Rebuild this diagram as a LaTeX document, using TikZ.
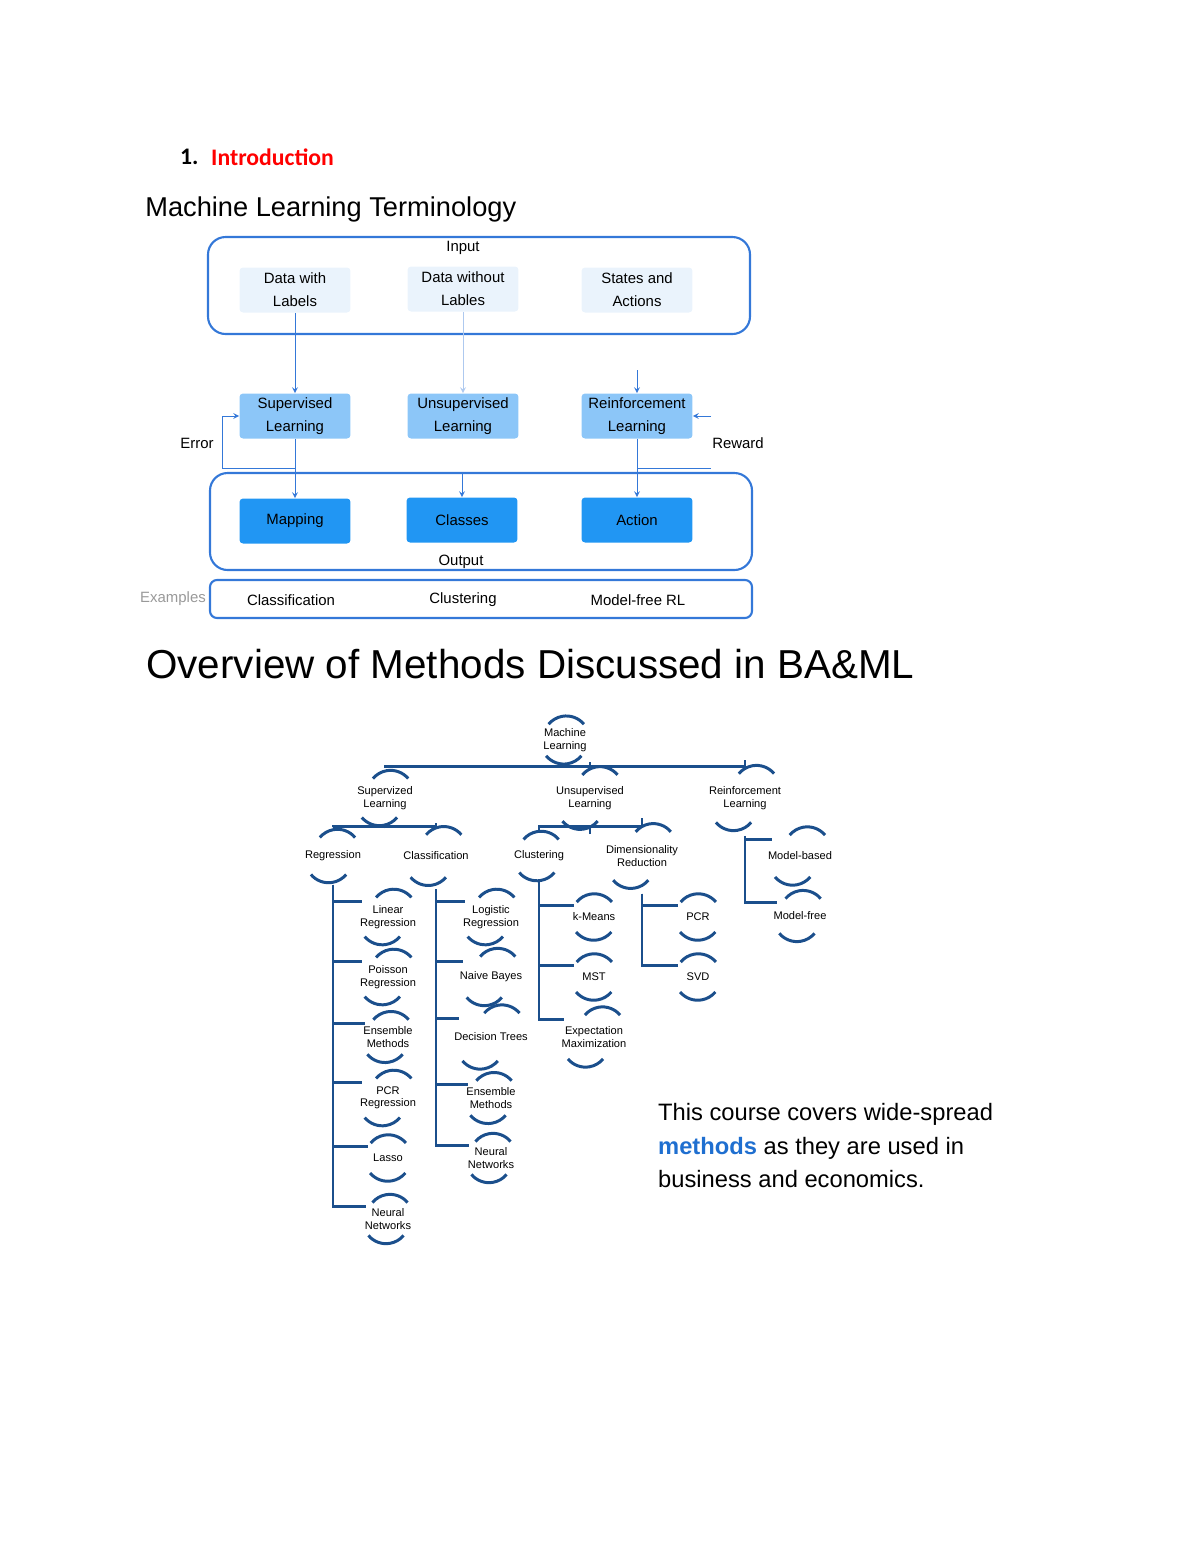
\documentclass[tikz,border=0pt]{standalone}
\usepackage{fontspec}
\setmainfont{Liberation Sans}
\newfontfamily\calibri{Carlito}
\usetikzlibrary{positioning}
\definecolor{frameblue}{HTML}{3478D8}
\definecolor{paleblue}{HTML}{EAF3FC}
\definecolor{midblue}{HTML}{8CC6F8}
\definecolor{deepblue}{HTML}{2196F3}
\definecolor{treeblue}{HTML}{1B4F8C}
\definecolor{linkblue}{HTML}{1F6FD0}
\tikzset{
  frame/.style = {draw=frameblue, line width=1.2pt, rounded corners=10pt},
  box/.style = {rounded corners=2pt, minimum width=2.22cm, minimum height=0.9cm, align=center, font=\fontsize{8.5}{13}\selectfont, inner sep=1pt},
  flow/.style = {draw=frameblue, line width=0.5pt, ->, >=stealth},
  ml/.style = {circle, minimum size=0.92cm, inner sep=0pt, align=center, font=\fontsize{6.3}{7}\selectfont},
  tree/.style = {draw=treeblue, line width=1.7pt}
}
\begin{document}
\begin{tikzpicture}[x=0.02cm, y=-0.02cm]
\useasboundingbox (0,0) rectangle (1200,1553);

% headings
\node[anchor=west, font=\calibri\bfseries\fontsize{13.5}{16}\selectfont] (num) at (174,157) {1.};
\node[anchor=west, font=\calibri\bfseries\fontsize{13.5}{16}\selectfont, text=red] (intro) at (205,157) {Introduction};
\node[anchor=west, font=\fontsize{15.5}{18}\selectfont, inner sep=0pt] (term) at (145,209) {Machine Learning Terminology};

% input / output frames
\draw[frame] (208,237) rectangle (750,334);
\node[font=\fontsize{8.5}{10}\selectfont] (input) at (463,248) {Input};
\draw[frame] (210,473) rectangle (752,570);
\node[font=\fontsize{8.5}{10}\selectfont] (output) at (461,562) {Output};
\draw[frame, rounded corners=4pt] (210,580) rectangle (752,618);

\node[box, fill=paleblue] (dwl) at (295,290) {Data with\\Labels};
\node[box, fill=paleblue] (dwo) at (463,289) {Data without\\Lables};
\node[box, fill=paleblue] (sa) at (637,290) {States and\\Actions};

\node[box, fill=midblue] (sup) at (295,416) {Supervised\\Learning};
\node[box, fill=midblue] (uns) at (463,416) {Unsupervised\\Learning};
\node[box, fill=midblue] (rl) at (637,416) {Reinforcement\\Learning};

\node[box, fill=deepblue] (map) at (295,521) {Mapping};
\node[box, fill=deepblue] (cls) at (462,520) {Classes};
\node[box, fill=deepblue] (act) at (637,520) {Action};

\draw[flow] (dwl) -- (sup);
\draw[flow, draw=frameblue!40] (dwo) -- (uns);
\coordinate (sain) at (637,370);
\draw[flow] (sain) -- (rl);
\draw[flow] (sup) -- (map);
\coordinate (unsout) at (462,473);
\draw[flow] (unsout) -- (cls);
\draw[flow] (rl) -- (act);

% feedback
\coordinate (errbase) at (295,468);
\draw[flow] (errbase) -- (222,468) |- (sup.west);
\node[font=\fontsize{8.5}{10}\selectfont] (err) at (197,443) {Error};
\coordinate (rewbase) at (637,468);
\draw[draw=frameblue, line width=0.5pt] (rewbase) -- (711,468);
\coordinate (rewin) at (711,416);
\draw[flow] (rewin) -- (rl.east);
\node[font=\fontsize{8.5}{10}\selectfont] (rew) at (738,443) {Reward};

% examples
\node[font=\fontsize{8.5}{10}\selectfont, text=black!40] (ex) at (173,599) {Examples};
\node[font=\fontsize{8.5}{10}\selectfont] (ex1) at (291,600) {Classification};
\node[font=\fontsize{8.5}{10}\selectfont] (ex2) at (463,600) {Clustering};
\node[font=\fontsize{8.5}{10}\selectfont] (ex3) at (638,600) {Model-free RL};

% overview
\node[anchor=west, font=\fontsize{23}{26}\selectfont, inner sep=0pt] (over) at (146,664) {Overview of Methods Discussed in BA\&ML};

\node[ml] (mlr) at (565,740) {Machine\\Learning};
\node[ml] (sl) at (385,798) {Supervized\\Learning};
\node[ml] (ul) at (590,798) {Unsupervised\\Learning};
\node[ml] (rfl) at (745,798) {Reinforcement\\Learning};
\node[ml] (reg) at (333,856) {Regression};
\node[ml] (clf) at (436,856) {Classification};
\node[ml] (clu) at (539,856) {Clustering};
\node[ml] (dim) at (642,856) {Dimensionality\\Reduction};
\node[ml] (mb) at (800,856) {Model-based};
\node[ml] (mf) at (800,916) {Model-free};

\node[ml] (r1) at (388,917) {Linear\\Regression};
\node[ml] (r2) at (388,977) {Poisson\\Regression};
\node[ml] (r3) at (388,1037) {Ensemble\\Methods};
\node[ml] (r4) at (388,1098) {PCR\\Regression};
\node[ml] (r5) at (388,1158) {Lasso};
\node[ml] (r6) at (388,1219) {Neural\\Networks};
\node[ml] (c1) at (491,917) {Logistic\\Regression};
\node[ml] (c2) at (491,977) {Naive Bayes};
\node[ml] (c3) at (491,1037) {Decision Trees};
\node[ml] (c4) at (491,1098) {Ensemble\\Methods};
\node[ml] (c5) at (491,1158) {Neural\\Networks};
\node[ml] (k1) at (594,917) {k-Means};
\node[ml] (k2) at (594,977) {MST};
\node[ml] (k3) at (594,1037) {Expectation\\Maximization};
\node[ml] (d1) at (698,917) {PCR};
\node[ml] (d2) at (698,977) {SVD};

% arcs round every node
\foreach \n in {mlr,sl,ul,rfl,reg,clf,clu,dim,mb,mf,r1,r2,r3,r4,r5,r6,c1,c2,c3,c4,c5,k1,k2,k3,d1,d2}{
  \draw[tree] (\n.40) arc[start angle=40, end angle=140, radius=0.46cm];
  \draw[tree] (\n.220) arc[start angle=220, end angle=320, radius=0.46cm];
}

% tree links
\coordinate (bar) at (565,766);
\draw[tree] (mlr.south) -- (bar);
\draw[tree] (sl.north) |- (bar) -| (rfl.north);
\draw[tree] (ul.north) -- (590,766);
\draw[tree] (reg.north) |- (385,826) -| (clf.north);
\draw[tree] (sl.south) -- (385,826);
\draw[tree] (clu.north) |- (590,826) -| (dim.north);
\draw[tree] (ul.south) -- (590,826);
\draw[tree] (rfl.south) |- (mb.150);
\draw[tree] (rfl.south) |- (mf.150);
\foreach \n in {r1,r2,r3,r4,r5,r6} \draw[tree] (reg.south) |- (\n.150);
\foreach \n in {c1,c2,c3,c4,c5} \draw[tree] (clf.south) |- (\n.150);
\foreach \n in {k1,k2,k3} \draw[tree] (clu.south) |- (\n.150);
\foreach \n in {d1,d2} \draw[tree] (dim.south) |- (\n.150);

% note
\node[anchor=north west, align=left, font=\fontsize{13.5}{19.2}\selectfont] (note) at (652,1097) {This course covers wide-spread\\{\bfseries\color{linkblue}methods} as they are used in\\business and economics.};
\end{tikzpicture}
\end{document}
